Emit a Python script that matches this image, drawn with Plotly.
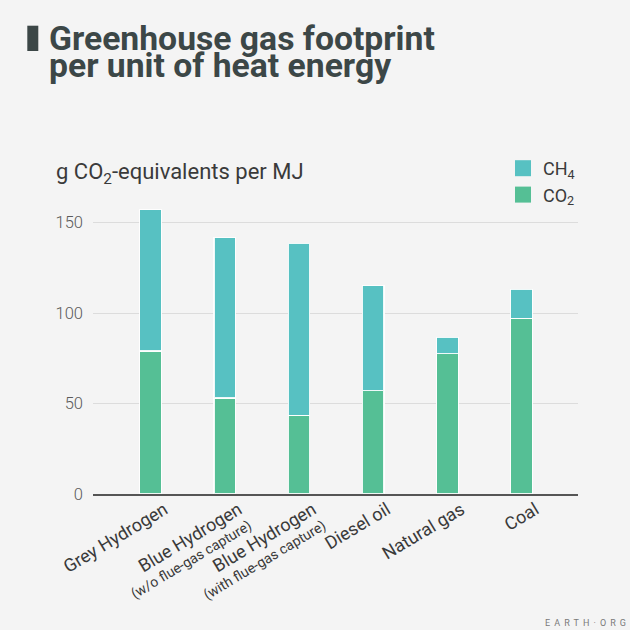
import plotly.graph_objects as go

# ---------------- data ----------------
categories = ["Grey Hydrogen", "Blue Hydrogen (w/o flue-gas capture)",
              "Blue Hydrogen (with flue-gas capture)", "Diesel oil", "Natural gas", "Coal"]
main_labels = ["Grey Hydrogen", "Blue Hydrogen", "Blue Hydrogen", "Diesel oil", "Natural gas", "Coal"]
sub_labels = ["", "(w/o flue-gas capture)", "(with flue-gas capture)", "", "", ""]
co2_values = [79, 53, 43.5, 57, 77.5, 97]
ch4_values = [78, 88.5, 95, 58, 9, 16]
y_ticks = [0, 50, 100, 150]

# ---------------- styling ----------------
BG = "#f4f4f4"
C_CH4 = "#57c1c2"
C_CO2 = "#55bf95"
DARK = "#3c4747"
W, H = 630, 630
ML, MR, MT, MB = 93, 52, 200, 136
PW, PH = W - ML - MR, H - MT - MB


def px2x(px):
    return (px - ML) / PW


def py2y(py):
    return (H - MB - py) / PH


tick_text = []
for m, s in zip(main_labels, sub_labels):
    t = "<span style='font-size:18px'>" + m + "</span>"
    if s:
        t += "<br>" + s
    tick_text.append(t)

fig = go.Figure()
fig.add_trace(go.Bar(x=categories, y=co2_values, name="CO<sub>2</sub>", width=0.29,
                     marker=dict(color=C_CO2, line=dict(color="rgba(255,255,255,0.9)", width=1.2)),
                     showlegend=False))
fig.add_trace(go.Bar(x=categories, y=ch4_values, name="CH<sub>4</sub>", width=0.29,
                     marker=dict(color=C_CH4, line=dict(color="rgba(255,255,255,0.9)", width=1.2)),
                     showlegend=False))
# legend entries (square swatches)
fig.add_trace(go.Scatter(x=[None], y=[None], mode="markers", name="CH<sub>4</sub>",
                         marker=dict(symbol="square", size=16, color=C_CH4)))
fig.add_trace(go.Scatter(x=[None], y=[None], mode="markers", name="CO<sub>2</sub>",
                         marker=dict(symbol="square", size=16, color=C_CO2)))

fig.update_layout(
    width=W, height=H,
    margin=dict(l=ML, r=MR, t=MT, b=MB, autoexpand=False),
    paper_bgcolor=BG, plot_bgcolor=BG,
    barmode="stack",
    font=dict(family="Roboto", color="#333333"),
    legend=dict(xref="container", yref="container", x=503 / W, y=1 - 150 / H,
                xanchor="left", yanchor="top", traceorder="normal",
                font=dict(size=18, color="#3a3a3a"), itemsizing="trace",
                bgcolor="rgba(0,0,0,0)"),
    xaxis=dict(type="category", range=[-0.775, 5.76], tickvals=categories, ticktext=tick_text,
               tickangle=-31, tickfont=dict(size=14, color="#3a3a3a"),
               showgrid=False, showline=True, linecolor="#555555", linewidth=1.6,
               ticks="", ticklabelshift=15, ticklabelstandoff=1),
    yaxis=dict(range=[0, PH / 1.81], tickvals=y_ticks, showgrid=True, gridcolor="#dcdcdc",
               gridwidth=1, zeroline=False, showline=False,
               tickfont=dict(size=16.5, color="#5a5a5a", weight=300),
               ticks="", ticklabelstandoff=9),
)

# title bar
fig.add_shape(type="rect", xref="paper", yref="paper",
              x0=px2x(27.3), x1=px2x(38.3), y0=py2y(51), y1=py2y(25.7),
              fillcolor=DARK, line=dict(width=0))
fig.add_annotation(text="Greenhouse gas footprint", xref="paper", yref="paper",
                   x=px2x(46.5), y=py2y(39), xanchor="left", yanchor="middle", showarrow=False,
                   font=dict(family="Roboto", size=33.7, color=DARK, weight="bold"))
fig.add_annotation(text="per unit of heat energy", xref="paper", yref="paper",
                   x=px2x(46.5), y=py2y(65), xanchor="left", yanchor="middle", showarrow=False,
                   font=dict(family="Roboto", size=33.7, color=DARK, weight="bold"))
fig.add_annotation(text="g CO<sub>2</sub>-equivalents per MJ", xref="paper", yref="paper",
                   x=px2x(54), y=py2y(174), xanchor="left", yanchor="middle", showarrow=False,
                   font=dict(family="Roboto", size=22, color="#3a3a3a"))
fig.add_annotation(text="E\u2009 A\u2009 R\u2009 T\u2009 H\u2009 ·\u2009 O\u2009 R\u2009 G",
                   xref="paper", yref="paper",
                   x=px2x(628), y=py2y(623), xanchor="right", yanchor="middle", showarrow=False,
                   font=dict(family="Roboto", size=9, color="#7a7a7a"))

fig.write_html("out.html")
